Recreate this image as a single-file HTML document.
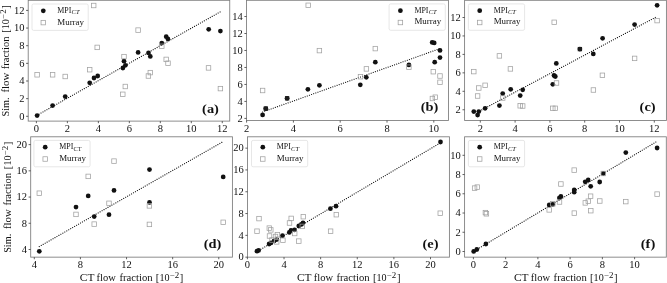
<!DOCTYPE html>
<html><head><meta charset="utf-8"><title>Flow fraction plots</title>
<style>html,body{margin:0;padding:0;background:#fff}body{width:667px;height:283px;overflow:hidden}</style></head>
<body>
<svg width="667" height="283" viewBox="0 0 667 283" style="display:block">
<rect width="667" height="283" fill="#fff"/>
<g id="panel-a">
<line x1="37.1" y1="115.3" x2="220.9" y2="11.5" stroke="#111" stroke-width="1.2" stroke-linecap="round" stroke-dasharray="0.01 2.25"/>
<circle cx="37.1" cy="115.6" r="2.38" fill="#111"/>
<circle cx="52.6" cy="105.6" r="2.38" fill="#111"/>
<circle cx="65.2" cy="96.6" r="2.38" fill="#111"/>
<circle cx="89.7" cy="82.8" r="2.38" fill="#111"/>
<circle cx="94" cy="78" r="2.38" fill="#111"/>
<circle cx="97.7" cy="76" r="2.38" fill="#111"/>
<circle cx="122.9" cy="68" r="2.38" fill="#111"/>
<circle cx="124" cy="61.2" r="2.38" fill="#111"/>
<circle cx="125.4" cy="65.3" r="2.38" fill="#111"/>
<circle cx="138.1" cy="52.4" r="2.38" fill="#111"/>
<circle cx="148.5" cy="52.9" r="2.38" fill="#111"/>
<circle cx="150.3" cy="56.4" r="2.38" fill="#111"/>
<circle cx="161.8" cy="43.1" r="2.38" fill="#111"/>
<circle cx="166.2" cy="36.7" r="2.38" fill="#111"/>
<circle cx="167.9" cy="38.9" r="2.38" fill="#111"/>
<circle cx="208.7" cy="29.3" r="2.38" fill="#111"/>
<circle cx="220.4" cy="31.1" r="2.38" fill="#111"/>
<rect x="91.45" y="3.25" width="4.5" height="4.5" fill="none" stroke="#a0a0a0" stroke-width="0.75"/>
<rect x="94.95" y="45.15" width="4.5" height="4.5" fill="none" stroke="#a0a0a0" stroke-width="0.75"/>
<rect x="34.85" y="72.55" width="4.5" height="4.5" fill="none" stroke="#a0a0a0" stroke-width="0.75"/>
<rect x="50.35" y="72.55" width="4.5" height="4.5" fill="none" stroke="#a0a0a0" stroke-width="0.75"/>
<rect x="62.95" y="74.25" width="4.5" height="4.5" fill="none" stroke="#a0a0a0" stroke-width="0.75"/>
<rect x="87.45" y="67.45" width="4.5" height="4.5" fill="none" stroke="#a0a0a0" stroke-width="0.75"/>
<rect x="121.75" y="54.35" width="4.5" height="4.5" fill="none" stroke="#a0a0a0" stroke-width="0.75"/>
<rect x="120.55" y="92.05" width="4.5" height="4.5" fill="none" stroke="#a0a0a0" stroke-width="0.75"/>
<rect x="123.05" y="84.25" width="4.5" height="4.5" fill="none" stroke="#a0a0a0" stroke-width="0.75"/>
<rect x="135.85" y="27.85" width="4.5" height="4.5" fill="none" stroke="#a0a0a0" stroke-width="0.75"/>
<rect x="146.15" y="73.75" width="4.5" height="4.5" fill="none" stroke="#a0a0a0" stroke-width="0.75"/>
<rect x="148.05" y="70.35" width="4.5" height="4.5" fill="none" stroke="#a0a0a0" stroke-width="0.75"/>
<rect x="159.55" y="44.05" width="4.5" height="4.5" fill="none" stroke="#a0a0a0" stroke-width="0.75"/>
<rect x="163.95" y="57.15" width="4.5" height="4.5" fill="none" stroke="#a0a0a0" stroke-width="0.75"/>
<rect x="165.75" y="60.95" width="4.5" height="4.5" fill="none" stroke="#a0a0a0" stroke-width="0.75"/>
<rect x="206.25" y="65.65" width="4.5" height="4.5" fill="none" stroke="#a0a0a0" stroke-width="0.75"/>
<rect x="218.15" y="86.35" width="4.5" height="4.5" fill="none" stroke="#a0a0a0" stroke-width="0.75"/>
<rect x="28.2" y="0.3" width="201.55" height="120.8" fill="none" stroke="#7a7a7a" stroke-width="0.85"/>
<line x1="36.40" y1="121.1" x2="36.40" y2="123.19999999999999" stroke="#3a3a3a" stroke-width="0.8"/>
<text x="36.40" y="132.0" text-anchor="middle" font-size="10" textLength="5.25" lengthAdjust="spacingAndGlyphs" font-family="'Liberation Serif', serif" fill="#111">0</text>
<line x1="67.38" y1="121.1" x2="67.38" y2="123.19999999999999" stroke="#3a3a3a" stroke-width="0.8"/>
<text x="67.38" y="132.0" text-anchor="middle" font-size="10" textLength="5.25" lengthAdjust="spacingAndGlyphs" font-family="'Liberation Serif', serif" fill="#111">2</text>
<line x1="98.36" y1="121.1" x2="98.36" y2="123.19999999999999" stroke="#3a3a3a" stroke-width="0.8"/>
<text x="98.36" y="132.0" text-anchor="middle" font-size="10" textLength="5.25" lengthAdjust="spacingAndGlyphs" font-family="'Liberation Serif', serif" fill="#111">4</text>
<line x1="129.34" y1="121.1" x2="129.34" y2="123.19999999999999" stroke="#3a3a3a" stroke-width="0.8"/>
<text x="129.34" y="132.0" text-anchor="middle" font-size="10" textLength="5.25" lengthAdjust="spacingAndGlyphs" font-family="'Liberation Serif', serif" fill="#111">6</text>
<line x1="160.32" y1="121.1" x2="160.32" y2="123.19999999999999" stroke="#3a3a3a" stroke-width="0.8"/>
<text x="160.32" y="132.0" text-anchor="middle" font-size="10" textLength="5.25" lengthAdjust="spacingAndGlyphs" font-family="'Liberation Serif', serif" fill="#111">8</text>
<line x1="191.30" y1="121.1" x2="191.30" y2="123.19999999999999" stroke="#3a3a3a" stroke-width="0.8"/>
<text x="191.30" y="132.0" text-anchor="middle" font-size="10" textLength="10.50" lengthAdjust="spacingAndGlyphs" font-family="'Liberation Serif', serif" fill="#111">10</text>
<line x1="222.28" y1="121.1" x2="222.28" y2="123.19999999999999" stroke="#3a3a3a" stroke-width="0.8"/>
<text x="222.28" y="132.0" text-anchor="middle" font-size="10" textLength="10.50" lengthAdjust="spacingAndGlyphs" font-family="'Liberation Serif', serif" fill="#111">12</text>
<line x1="26.099999999999998" y1="116.30" x2="28.2" y2="116.30" stroke="#3a3a3a" stroke-width="0.8"/>
<text x="24.40" y="119.60" text-anchor="end" font-size="10" textLength="5.25" lengthAdjust="spacingAndGlyphs" font-family="'Liberation Serif', serif" fill="#111">0</text>
<line x1="26.099999999999998" y1="98.65" x2="28.2" y2="98.65" stroke="#3a3a3a" stroke-width="0.8"/>
<text x="24.40" y="101.95" text-anchor="end" font-size="10" textLength="5.25" lengthAdjust="spacingAndGlyphs" font-family="'Liberation Serif', serif" fill="#111">2</text>
<line x1="26.099999999999998" y1="81.00" x2="28.2" y2="81.00" stroke="#3a3a3a" stroke-width="0.8"/>
<text x="24.40" y="84.30" text-anchor="end" font-size="10" textLength="5.25" lengthAdjust="spacingAndGlyphs" font-family="'Liberation Serif', serif" fill="#111">4</text>
<line x1="26.099999999999998" y1="63.35" x2="28.2" y2="63.35" stroke="#3a3a3a" stroke-width="0.8"/>
<text x="24.40" y="66.65" text-anchor="end" font-size="10" textLength="5.25" lengthAdjust="spacingAndGlyphs" font-family="'Liberation Serif', serif" fill="#111">6</text>
<line x1="26.099999999999998" y1="45.70" x2="28.2" y2="45.70" stroke="#3a3a3a" stroke-width="0.8"/>
<text x="24.40" y="49.00" text-anchor="end" font-size="10" textLength="5.25" lengthAdjust="spacingAndGlyphs" font-family="'Liberation Serif', serif" fill="#111">8</text>
<line x1="26.099999999999998" y1="28.05" x2="28.2" y2="28.05" stroke="#3a3a3a" stroke-width="0.8"/>
<text x="24.40" y="31.35" text-anchor="end" font-size="10" textLength="10.50" lengthAdjust="spacingAndGlyphs" font-family="'Liberation Serif', serif" fill="#111">10</text>
<line x1="26.099999999999998" y1="10.40" x2="28.2" y2="10.40" stroke="#3a3a3a" stroke-width="0.8"/>
<text x="24.40" y="13.70" text-anchor="end" font-size="10" textLength="10.50" lengthAdjust="spacingAndGlyphs" font-family="'Liberation Serif', serif" fill="#111">12</text>
<rect x="32.0" y="4.0" width="56.2" height="26.4" rx="1.6" fill="#fff" fill-opacity="0.8" stroke="#dcdcdc" stroke-width="0.7"/>
<circle cx="43.3" cy="10.8" r="2.38" fill="#111"/>
<rect x="41.05" y="20.35" width="4.5" height="4.5" fill="none" stroke="#a0a0a0" stroke-width="0.75"/>
<text x="57.3" y="13.0" font-size="8.5" textLength="14.1" lengthAdjust="spacingAndGlyphs" font-family="'Liberation Serif', serif" fill="#111">MPI</text>
<text x="71.6" y="14.4" font-size="6.9" textLength="8.0" lengthAdjust="spacingAndGlyphs" font-style="italic" font-family="'Liberation Serif', serif" fill="#111">CT</text>
<text x="57.3" y="24.5" font-size="8.4" textLength="26.7" lengthAdjust="spacingAndGlyphs" font-family="'Liberation Serif', serif" fill="#111">Murray</text>
<text x="210.5" y="112.5" text-anchor="middle" font-size="13.5" font-weight="bold" textLength="16.8" lengthAdjust="spacingAndGlyphs" font-family="'Liberation Serif', serif" fill="#111">(a)</text>
</g>
<g id="panel-b">
<line x1="262.6" y1="112" x2="440" y2="48.6" stroke="#111" stroke-width="1.2" stroke-linecap="round" stroke-dasharray="0.01 2.25"/>
<circle cx="262.6" cy="114.9" r="2.38" fill="#111"/>
<circle cx="265.8" cy="108.6" r="2.38" fill="#111"/>
<circle cx="287.1" cy="98.3" r="2.38" fill="#111"/>
<circle cx="307.9" cy="89.3" r="2.38" fill="#111"/>
<circle cx="319.4" cy="85.3" r="2.38" fill="#111"/>
<circle cx="360.3" cy="84.8" r="2.38" fill="#111"/>
<circle cx="366.3" cy="77.3" r="2.38" fill="#111"/>
<circle cx="375.3" cy="62.2" r="2.38" fill="#111"/>
<circle cx="408.9" cy="64.9" r="2.38" fill="#111"/>
<circle cx="432.2" cy="42.4" r="2.38" fill="#111"/>
<circle cx="434.2" cy="42.9" r="2.38" fill="#111"/>
<circle cx="440" cy="50.4" r="2.38" fill="#111"/>
<circle cx="440" cy="57.6" r="2.38" fill="#111"/>
<circle cx="434.7" cy="62.2" r="2.38" fill="#111"/>
<rect x="263.65" y="106.45" width="4.3" height="4.3" fill="#1c1c1c"/>
<rect x="284.95" y="96.15" width="4.3" height="4.3" fill="#1c1c1c"/>
<rect x="260.35" y="88.25" width="4.5" height="4.5" fill="none" stroke="#a0a0a0" stroke-width="0.75"/>
<rect x="305.95" y="3.05" width="4.5" height="4.5" fill="none" stroke="#a0a0a0" stroke-width="0.75"/>
<rect x="317.15" y="48.35" width="4.5" height="4.5" fill="none" stroke="#a0a0a0" stroke-width="0.75"/>
<rect x="373.05" y="46.35" width="4.5" height="4.5" fill="none" stroke="#a0a0a0" stroke-width="0.75"/>
<rect x="364.15" y="66.65" width="4.5" height="4.5" fill="none" stroke="#a0a0a0" stroke-width="0.75"/>
<rect x="358.25" y="74.45" width="4.5" height="4.5" fill="none" stroke="#a0a0a0" stroke-width="0.75"/>
<rect x="406.65" y="64.95" width="4.5" height="4.5" fill="none" stroke="#a0a0a0" stroke-width="0.75"/>
<rect x="431.05" y="69.45" width="4.5" height="4.5" fill="none" stroke="#a0a0a0" stroke-width="0.75"/>
<rect x="437.75" y="73.75" width="4.5" height="4.5" fill="none" stroke="#a0a0a0" stroke-width="0.75"/>
<rect x="437.75" y="80.05" width="4.5" height="4.5" fill="none" stroke="#a0a0a0" stroke-width="0.75"/>
<rect x="433.05" y="94.95" width="4.5" height="4.5" fill="none" stroke="#a0a0a0" stroke-width="0.75"/>
<rect x="430.15" y="96.25" width="4.5" height="4.5" fill="none" stroke="#a0a0a0" stroke-width="0.75"/>
<rect x="246.5" y="0.3" width="201.95" height="120.2" fill="none" stroke="#7a7a7a" stroke-width="0.85"/>
<line x1="246.60" y1="120.5" x2="246.60" y2="122.6" stroke="#3a3a3a" stroke-width="0.8"/>
<text x="246.60" y="132.0" text-anchor="middle" font-size="10" textLength="5.25" lengthAdjust="spacingAndGlyphs" font-family="'Liberation Serif', serif" fill="#111">2</text>
<line x1="293.40" y1="120.5" x2="293.40" y2="122.6" stroke="#3a3a3a" stroke-width="0.8"/>
<text x="293.40" y="132.0" text-anchor="middle" font-size="10" textLength="5.25" lengthAdjust="spacingAndGlyphs" font-family="'Liberation Serif', serif" fill="#111">4</text>
<line x1="340.20" y1="120.5" x2="340.20" y2="122.6" stroke="#3a3a3a" stroke-width="0.8"/>
<text x="340.20" y="132.0" text-anchor="middle" font-size="10" textLength="5.25" lengthAdjust="spacingAndGlyphs" font-family="'Liberation Serif', serif" fill="#111">6</text>
<line x1="387.00" y1="120.5" x2="387.00" y2="122.6" stroke="#3a3a3a" stroke-width="0.8"/>
<text x="387.00" y="132.0" text-anchor="middle" font-size="10" textLength="5.25" lengthAdjust="spacingAndGlyphs" font-family="'Liberation Serif', serif" fill="#111">8</text>
<line x1="433.80" y1="120.5" x2="433.80" y2="122.6" stroke="#3a3a3a" stroke-width="0.8"/>
<text x="433.80" y="132.0" text-anchor="middle" font-size="10" textLength="10.50" lengthAdjust="spacingAndGlyphs" font-family="'Liberation Serif', serif" fill="#111">10</text>
<line x1="244.4" y1="118.40" x2="246.5" y2="118.40" stroke="#3a3a3a" stroke-width="0.8"/>
<text x="242.70" y="121.70" text-anchor="end" font-size="10" textLength="5.25" lengthAdjust="spacingAndGlyphs" font-family="'Liberation Serif', serif" fill="#111">2</text>
<line x1="244.4" y1="101.42" x2="246.5" y2="101.42" stroke="#3a3a3a" stroke-width="0.8"/>
<text x="242.70" y="104.72" text-anchor="end" font-size="10" textLength="5.25" lengthAdjust="spacingAndGlyphs" font-family="'Liberation Serif', serif" fill="#111">4</text>
<line x1="244.4" y1="84.44" x2="246.5" y2="84.44" stroke="#3a3a3a" stroke-width="0.8"/>
<text x="242.70" y="87.74" text-anchor="end" font-size="10" textLength="5.25" lengthAdjust="spacingAndGlyphs" font-family="'Liberation Serif', serif" fill="#111">6</text>
<line x1="244.4" y1="67.46" x2="246.5" y2="67.46" stroke="#3a3a3a" stroke-width="0.8"/>
<text x="242.70" y="70.76" text-anchor="end" font-size="10" textLength="5.25" lengthAdjust="spacingAndGlyphs" font-family="'Liberation Serif', serif" fill="#111">8</text>
<line x1="244.4" y1="50.48" x2="246.5" y2="50.48" stroke="#3a3a3a" stroke-width="0.8"/>
<text x="242.70" y="53.78" text-anchor="end" font-size="10" textLength="10.50" lengthAdjust="spacingAndGlyphs" font-family="'Liberation Serif', serif" fill="#111">10</text>
<line x1="244.4" y1="33.50" x2="246.5" y2="33.50" stroke="#3a3a3a" stroke-width="0.8"/>
<text x="242.70" y="36.80" text-anchor="end" font-size="10" textLength="10.50" lengthAdjust="spacingAndGlyphs" font-family="'Liberation Serif', serif" fill="#111">12</text>
<line x1="244.4" y1="16.52" x2="246.5" y2="16.52" stroke="#3a3a3a" stroke-width="0.8"/>
<text x="242.70" y="19.82" text-anchor="end" font-size="10" textLength="10.50" lengthAdjust="spacingAndGlyphs" font-family="'Liberation Serif', serif" fill="#111">14</text>
<rect x="389.1" y="3.9" width="56.2" height="26.4" rx="1.6" fill="#fff" fill-opacity="0.8" stroke="#dcdcdc" stroke-width="0.7"/>
<circle cx="400.40000000000003" cy="10.7" r="2.38" fill="#111"/>
<rect x="398.15000000000003" y="20.25" width="4.5" height="4.5" fill="none" stroke="#a0a0a0" stroke-width="0.75"/>
<text x="414.40000000000003" y="12.9" font-size="8.5" textLength="14.1" lengthAdjust="spacingAndGlyphs" font-family="'Liberation Serif', serif" fill="#111">MPI</text>
<text x="428.70000000000005" y="14.3" font-size="6.9" textLength="8.0" lengthAdjust="spacingAndGlyphs" font-style="italic" font-family="'Liberation Serif', serif" fill="#111">CT</text>
<text x="414.40000000000003" y="24.4" font-size="8.4" textLength="26.7" lengthAdjust="spacingAndGlyphs" font-family="'Liberation Serif', serif" fill="#111">Murray</text>
<text x="429.5" y="111" text-anchor="middle" font-size="13.5" font-weight="bold" textLength="17.6" lengthAdjust="spacingAndGlyphs" font-family="'Liberation Serif', serif" fill="#111">(b)</text>
</g>
<g id="panel-c">
<line x1="481.8" y1="109.9" x2="657.3" y2="16.4" stroke="#111" stroke-width="1.2" stroke-linecap="round" stroke-dasharray="0.01 2.25"/>
<circle cx="473.8" cy="111.6" r="2.38" fill="#111"/>
<circle cx="478.8" cy="111.6" r="2.38" fill="#111"/>
<circle cx="477.6" cy="115.1" r="2.38" fill="#111"/>
<circle cx="485.1" cy="108.3" r="2.38" fill="#111"/>
<circle cx="499.4" cy="105.6" r="2.38" fill="#111"/>
<circle cx="502.7" cy="93.6" r="2.38" fill="#111"/>
<circle cx="510.7" cy="89.3" r="2.38" fill="#111"/>
<circle cx="520.2" cy="95.6" r="2.38" fill="#111"/>
<circle cx="522.7" cy="89.8" r="2.38" fill="#111"/>
<circle cx="554" cy="75.5" r="2.38" fill="#111"/>
<circle cx="555.3" cy="76.5" r="2.38" fill="#111"/>
<circle cx="552.8" cy="84.3" r="2.38" fill="#111"/>
<circle cx="556.3" cy="63.4" r="2.38" fill="#111"/>
<circle cx="579.9" cy="49.1" r="2.38" fill="#111"/>
<circle cx="593.3" cy="53.9" r="2.38" fill="#111"/>
<circle cx="602.6" cy="38.3" r="2.38" fill="#111"/>
<circle cx="634.6" cy="24.6" r="2.38" fill="#111"/>
<circle cx="657.1" cy="5.3" r="2.38" fill="#111"/>
<rect x="577.75" y="46.95" width="4.3" height="4.3" fill="#1c1c1c"/>
<rect x="471.55" y="69.35" width="4.5" height="4.5" fill="none" stroke="#a0a0a0" stroke-width="0.75"/>
<rect x="476.55" y="85.75" width="4.5" height="4.5" fill="none" stroke="#a0a0a0" stroke-width="0.75"/>
<rect x="482.85" y="83.05" width="4.5" height="4.5" fill="none" stroke="#a0a0a0" stroke-width="0.75"/>
<rect x="475.35" y="93.75" width="4.5" height="4.5" fill="none" stroke="#a0a0a0" stroke-width="0.75"/>
<rect x="500.45" y="95.75" width="4.5" height="4.5" fill="none" stroke="#a0a0a0" stroke-width="0.75"/>
<rect x="517.95" y="103.55" width="4.5" height="4.5" fill="none" stroke="#a0a0a0" stroke-width="0.75"/>
<rect x="520.45" y="103.75" width="4.5" height="4.5" fill="none" stroke="#a0a0a0" stroke-width="0.75"/>
<rect x="550.55" y="106.05" width="4.5" height="4.5" fill="none" stroke="#a0a0a0" stroke-width="0.75"/>
<rect x="553.05" y="106.05" width="4.5" height="4.5" fill="none" stroke="#a0a0a0" stroke-width="0.75"/>
<rect x="554.25" y="80.75" width="4.5" height="4.5" fill="none" stroke="#a0a0a0" stroke-width="0.75"/>
<rect x="591.15" y="87.75" width="4.5" height="4.5" fill="none" stroke="#a0a0a0" stroke-width="0.75"/>
<rect x="600.15" y="73.05" width="4.5" height="4.5" fill="none" stroke="#a0a0a0" stroke-width="0.75"/>
<rect x="551.95" y="20.05" width="4.5" height="4.5" fill="none" stroke="#a0a0a0" stroke-width="0.75"/>
<rect x="497.15" y="53.65" width="4.5" height="4.5" fill="none" stroke="#a0a0a0" stroke-width="0.75"/>
<rect x="508.15" y="66.65" width="4.5" height="4.5" fill="none" stroke="#a0a0a0" stroke-width="0.75"/>
<rect x="632.35" y="56.15" width="4.5" height="4.5" fill="none" stroke="#a0a0a0" stroke-width="0.75"/>
<rect x="654.85" y="18.35" width="4.5" height="4.5" fill="none" stroke="#a0a0a0" stroke-width="0.75"/>
<rect x="464.6" y="0.3" width="201.79999999999995" height="120.2" fill="none" stroke="#7a7a7a" stroke-width="0.85"/>
<line x1="480.30" y1="120.5" x2="480.30" y2="122.6" stroke="#3a3a3a" stroke-width="0.8"/>
<text x="480.30" y="132.0" text-anchor="middle" font-size="10" textLength="5.25" lengthAdjust="spacingAndGlyphs" font-family="'Liberation Serif', serif" fill="#111">2</text>
<line x1="515.10" y1="120.5" x2="515.10" y2="122.6" stroke="#3a3a3a" stroke-width="0.8"/>
<text x="515.10" y="132.0" text-anchor="middle" font-size="10" textLength="5.25" lengthAdjust="spacingAndGlyphs" font-family="'Liberation Serif', serif" fill="#111">4</text>
<line x1="549.90" y1="120.5" x2="549.90" y2="122.6" stroke="#3a3a3a" stroke-width="0.8"/>
<text x="549.90" y="132.0" text-anchor="middle" font-size="10" textLength="5.25" lengthAdjust="spacingAndGlyphs" font-family="'Liberation Serif', serif" fill="#111">6</text>
<line x1="584.70" y1="120.5" x2="584.70" y2="122.6" stroke="#3a3a3a" stroke-width="0.8"/>
<text x="584.70" y="132.0" text-anchor="middle" font-size="10" textLength="5.25" lengthAdjust="spacingAndGlyphs" font-family="'Liberation Serif', serif" fill="#111">8</text>
<line x1="619.50" y1="120.5" x2="619.50" y2="122.6" stroke="#3a3a3a" stroke-width="0.8"/>
<text x="619.50" y="132.0" text-anchor="middle" font-size="10" textLength="10.50" lengthAdjust="spacingAndGlyphs" font-family="'Liberation Serif', serif" fill="#111">10</text>
<line x1="654.30" y1="120.5" x2="654.30" y2="122.6" stroke="#3a3a3a" stroke-width="0.8"/>
<text x="654.30" y="132.0" text-anchor="middle" font-size="10" textLength="10.50" lengthAdjust="spacingAndGlyphs" font-family="'Liberation Serif', serif" fill="#111">12</text>
<line x1="462.5" y1="109.75" x2="464.6" y2="109.75" stroke="#3a3a3a" stroke-width="0.8"/>
<text x="460.80" y="113.05" text-anchor="end" font-size="10" textLength="5.25" lengthAdjust="spacingAndGlyphs" font-family="'Liberation Serif', serif" fill="#111">2</text>
<line x1="462.5" y1="91.30" x2="464.6" y2="91.30" stroke="#3a3a3a" stroke-width="0.8"/>
<text x="460.80" y="94.60" text-anchor="end" font-size="10" textLength="5.25" lengthAdjust="spacingAndGlyphs" font-family="'Liberation Serif', serif" fill="#111">4</text>
<line x1="462.5" y1="72.85" x2="464.6" y2="72.85" stroke="#3a3a3a" stroke-width="0.8"/>
<text x="460.80" y="76.15" text-anchor="end" font-size="10" textLength="5.25" lengthAdjust="spacingAndGlyphs" font-family="'Liberation Serif', serif" fill="#111">6</text>
<line x1="462.5" y1="54.40" x2="464.6" y2="54.40" stroke="#3a3a3a" stroke-width="0.8"/>
<text x="460.80" y="57.70" text-anchor="end" font-size="10" textLength="5.25" lengthAdjust="spacingAndGlyphs" font-family="'Liberation Serif', serif" fill="#111">8</text>
<line x1="462.5" y1="35.95" x2="464.6" y2="35.95" stroke="#3a3a3a" stroke-width="0.8"/>
<text x="460.80" y="39.25" text-anchor="end" font-size="10" textLength="10.50" lengthAdjust="spacingAndGlyphs" font-family="'Liberation Serif', serif" fill="#111">10</text>
<line x1="462.5" y1="17.50" x2="464.6" y2="17.50" stroke="#3a3a3a" stroke-width="0.8"/>
<text x="460.80" y="20.80" text-anchor="end" font-size="10" textLength="10.50" lengthAdjust="spacingAndGlyphs" font-family="'Liberation Serif', serif" fill="#111">12</text>
<rect x="468.4" y="3.9" width="56.2" height="26.4" rx="1.6" fill="#fff" fill-opacity="0.8" stroke="#dcdcdc" stroke-width="0.7"/>
<circle cx="479.7" cy="10.7" r="2.38" fill="#111"/>
<rect x="477.45" y="20.25" width="4.5" height="4.5" fill="none" stroke="#a0a0a0" stroke-width="0.75"/>
<text x="493.7" y="12.9" font-size="8.5" textLength="14.1" lengthAdjust="spacingAndGlyphs" font-family="'Liberation Serif', serif" fill="#111">MPI</text>
<text x="508.0" y="14.3" font-size="6.9" textLength="8.0" lengthAdjust="spacingAndGlyphs" font-style="italic" font-family="'Liberation Serif', serif" fill="#111">CT</text>
<text x="493.7" y="24.4" font-size="8.4" textLength="26.7" lengthAdjust="spacingAndGlyphs" font-family="'Liberation Serif', serif" fill="#111">Murray</text>
<text x="647.6" y="111" text-anchor="middle" font-size="13.5" font-weight="bold" textLength="16.0" lengthAdjust="spacingAndGlyphs" font-family="'Liberation Serif', serif" fill="#111">(c)</text>
</g>
<g id="panel-d">
<line x1="39.3" y1="246.6" x2="223.2" y2="141.6" stroke="#111" stroke-width="1.2" stroke-linecap="round" stroke-dasharray="0.01 2.25"/>
<circle cx="39.3" cy="251.3" r="2.38" fill="#111"/>
<circle cx="76" cy="207.1" r="2.38" fill="#111"/>
<circle cx="94.2" cy="216.6" r="2.38" fill="#111"/>
<circle cx="109" cy="214.7" r="2.38" fill="#111"/>
<circle cx="149.5" cy="202.4" r="2.38" fill="#111"/>
<circle cx="149.5" cy="169.6" r="2.38" fill="#111"/>
<circle cx="114" cy="190.4" r="2.38" fill="#111"/>
<circle cx="88.2" cy="195.9" r="2.38" fill="#111"/>
<circle cx="223.2" cy="176.9" r="2.38" fill="#111"/>
<rect x="37.05" y="190.95" width="4.5" height="4.5" fill="none" stroke="#a0a0a0" stroke-width="0.75"/>
<rect x="85.95" y="174.15" width="4.5" height="4.5" fill="none" stroke="#a0a0a0" stroke-width="0.75"/>
<rect x="111.75" y="158.85" width="4.5" height="4.5" fill="none" stroke="#a0a0a0" stroke-width="0.75"/>
<rect x="73.75" y="212.15" width="4.5" height="4.5" fill="none" stroke="#a0a0a0" stroke-width="0.75"/>
<rect x="91.95" y="221.85" width="4.5" height="4.5" fill="none" stroke="#a0a0a0" stroke-width="0.75"/>
<rect x="106.75" y="201.05" width="4.5" height="4.5" fill="none" stroke="#a0a0a0" stroke-width="0.75"/>
<rect x="147.15" y="203.65" width="4.5" height="4.5" fill="none" stroke="#a0a0a0" stroke-width="0.75"/>
<rect x="147.15" y="222.15" width="4.5" height="4.5" fill="none" stroke="#a0a0a0" stroke-width="0.75"/>
<rect x="220.95" y="220.05" width="4.5" height="4.5" fill="none" stroke="#a0a0a0" stroke-width="0.75"/>
<rect x="30.7" y="136.8" width="201.70000000000002" height="120.34999999999997" fill="none" stroke="#7a7a7a" stroke-width="0.85"/>
<line x1="34.30" y1="257.15" x2="34.30" y2="259.25" stroke="#3a3a3a" stroke-width="0.8"/>
<text x="34.30" y="268.2" text-anchor="middle" font-size="10" textLength="5.25" lengthAdjust="spacingAndGlyphs" font-family="'Liberation Serif', serif" fill="#111">4</text>
<line x1="80.42" y1="257.15" x2="80.42" y2="259.25" stroke="#3a3a3a" stroke-width="0.8"/>
<text x="80.42" y="268.2" text-anchor="middle" font-size="10" textLength="5.25" lengthAdjust="spacingAndGlyphs" font-family="'Liberation Serif', serif" fill="#111">8</text>
<line x1="126.54" y1="257.15" x2="126.54" y2="259.25" stroke="#3a3a3a" stroke-width="0.8"/>
<text x="126.54" y="268.2" text-anchor="middle" font-size="10" textLength="10.50" lengthAdjust="spacingAndGlyphs" font-family="'Liberation Serif', serif" fill="#111">12</text>
<line x1="172.66" y1="257.15" x2="172.66" y2="259.25" stroke="#3a3a3a" stroke-width="0.8"/>
<text x="172.66" y="268.2" text-anchor="middle" font-size="10" textLength="10.50" lengthAdjust="spacingAndGlyphs" font-family="'Liberation Serif', serif" fill="#111">16</text>
<line x1="218.78" y1="257.15" x2="218.78" y2="259.25" stroke="#3a3a3a" stroke-width="0.8"/>
<text x="218.78" y="268.2" text-anchor="middle" font-size="10" textLength="10.50" lengthAdjust="spacingAndGlyphs" font-family="'Liberation Serif', serif" fill="#111">20</text>
<line x1="28.599999999999998" y1="249.50" x2="30.7" y2="249.50" stroke="#3a3a3a" stroke-width="0.8"/>
<text x="26.90" y="252.80" text-anchor="end" font-size="10" textLength="5.25" lengthAdjust="spacingAndGlyphs" font-family="'Liberation Serif', serif" fill="#111">4</text>
<line x1="28.599999999999998" y1="223.28" x2="30.7" y2="223.28" stroke="#3a3a3a" stroke-width="0.8"/>
<text x="26.90" y="226.58" text-anchor="end" font-size="10" textLength="5.25" lengthAdjust="spacingAndGlyphs" font-family="'Liberation Serif', serif" fill="#111">8</text>
<line x1="28.599999999999998" y1="197.05" x2="30.7" y2="197.05" stroke="#3a3a3a" stroke-width="0.8"/>
<text x="26.90" y="200.35" text-anchor="end" font-size="10" textLength="10.50" lengthAdjust="spacingAndGlyphs" font-family="'Liberation Serif', serif" fill="#111">12</text>
<line x1="28.599999999999998" y1="170.83" x2="30.7" y2="170.83" stroke="#3a3a3a" stroke-width="0.8"/>
<text x="26.90" y="174.13" text-anchor="end" font-size="10" textLength="10.50" lengthAdjust="spacingAndGlyphs" font-family="'Liberation Serif', serif" fill="#111">16</text>
<line x1="28.599999999999998" y1="144.60" x2="30.7" y2="144.60" stroke="#3a3a3a" stroke-width="0.8"/>
<text x="26.90" y="147.90" text-anchor="end" font-size="10" textLength="10.50" lengthAdjust="spacingAndGlyphs" font-family="'Liberation Serif', serif" fill="#111">20</text>
<rect x="33.9" y="140.4" width="56.2" height="26.4" rx="1.6" fill="#fff" fill-opacity="0.8" stroke="#dcdcdc" stroke-width="0.7"/>
<circle cx="45.2" cy="147.20000000000002" r="2.38" fill="#111"/>
<rect x="42.95" y="156.75" width="4.5" height="4.5" fill="none" stroke="#a0a0a0" stroke-width="0.75"/>
<text x="59.2" y="149.4" font-size="8.5" textLength="14.1" lengthAdjust="spacingAndGlyphs" font-family="'Liberation Serif', serif" fill="#111">MPI</text>
<text x="73.5" y="150.8" font-size="6.9" textLength="8.0" lengthAdjust="spacingAndGlyphs" font-style="normal" font-family="'Liberation Serif', serif" fill="#111">CT</text>
<text x="59.2" y="160.9" font-size="8.4" textLength="26.7" lengthAdjust="spacingAndGlyphs" font-family="'Liberation Serif', serif" fill="#111">Murray</text>
<text x="212.5" y="248" text-anchor="middle" font-size="13.5" font-weight="bold" textLength="17.6" lengthAdjust="spacingAndGlyphs" font-family="'Liberation Serif', serif" fill="#111">(d)</text>
</g>
<g id="panel-e">
<line x1="257" y1="251.6" x2="440.5" y2="142.8" stroke="#111" stroke-width="1.2" stroke-linecap="round" stroke-dasharray="0.01 2.25"/>
<circle cx="257.0" cy="251.2" r="2.38" fill="#111"/>
<circle cx="258.6" cy="250.4" r="2.38" fill="#111"/>
<circle cx="269.1" cy="244" r="2.38" fill="#111"/>
<circle cx="271" cy="242.9" r="2.38" fill="#111"/>
<circle cx="274.1" cy="240.9" r="2.38" fill="#111"/>
<circle cx="276.7" cy="239.6" r="2.38" fill="#111"/>
<circle cx="282.5" cy="235.7" r="2.38" fill="#111"/>
<circle cx="289.3" cy="232.4" r="2.38" fill="#111"/>
<circle cx="291" cy="230.4" r="2.38" fill="#111"/>
<circle cx="294.5" cy="229.9" r="2.38" fill="#111"/>
<circle cx="298.8" cy="226" r="2.38" fill="#111"/>
<circle cx="301.3" cy="224.4" r="2.38" fill="#111"/>
<circle cx="303" cy="223" r="2.38" fill="#111"/>
<circle cx="330.4" cy="208.7" r="2.38" fill="#111"/>
<circle cx="336" cy="206.2" r="2.38" fill="#111"/>
<circle cx="440.5" cy="142.0" r="2.38" fill="#111"/>
<rect x="256.75" y="216.35" width="4.5" height="4.5" fill="none" stroke="#a0a0a0" stroke-width="0.75"/>
<rect x="254.75" y="228.95" width="4.5" height="4.5" fill="none" stroke="#a0a0a0" stroke-width="0.75"/>
<rect x="267.05" y="225.85" width="4.5" height="4.5" fill="none" stroke="#a0a0a0" stroke-width="0.75"/>
<rect x="268.55" y="227.65" width="4.5" height="4.5" fill="none" stroke="#a0a0a0" stroke-width="0.75"/>
<rect x="267.25" y="233.75" width="4.5" height="4.5" fill="none" stroke="#a0a0a0" stroke-width="0.75"/>
<rect x="275.15" y="232.45" width="4.5" height="4.5" fill="none" stroke="#a0a0a0" stroke-width="0.75"/>
<rect x="273.25" y="234.25" width="4.5" height="4.5" fill="none" stroke="#a0a0a0" stroke-width="0.75"/>
<rect x="269.75" y="237.75" width="4.5" height="4.5" fill="none" stroke="#a0a0a0" stroke-width="0.75"/>
<rect x="274.45" y="239.65" width="4.5" height="4.5" fill="none" stroke="#a0a0a0" stroke-width="0.75"/>
<rect x="280.65" y="238.05" width="4.5" height="4.5" fill="none" stroke="#a0a0a0" stroke-width="0.75"/>
<rect x="288.95" y="216.15" width="4.5" height="4.5" fill="none" stroke="#a0a0a0" stroke-width="0.75"/>
<rect x="287.25" y="220.75" width="4.5" height="4.5" fill="none" stroke="#a0a0a0" stroke-width="0.75"/>
<rect x="292.45" y="231.25" width="4.5" height="4.5" fill="none" stroke="#a0a0a0" stroke-width="0.75"/>
<rect x="296.55" y="238.85" width="4.5" height="4.5" fill="none" stroke="#a0a0a0" stroke-width="0.75"/>
<rect x="301.05" y="214.45" width="4.5" height="4.5" fill="none" stroke="#a0a0a0" stroke-width="0.75"/>
<rect x="300.05" y="224.15" width="4.5" height="4.5" fill="none" stroke="#a0a0a0" stroke-width="0.75"/>
<rect x="328.35" y="228.95" width="4.5" height="4.5" fill="none" stroke="#a0a0a0" stroke-width="0.75"/>
<rect x="334.05" y="212.45" width="4.5" height="4.5" fill="none" stroke="#a0a0a0" stroke-width="0.75"/>
<rect x="438.00" y="210.95" width="4.5" height="4.5" fill="none" stroke="#a0a0a0" stroke-width="0.75"/>
<rect x="247.5" y="136.8" width="201.89999999999998" height="120.34999999999997" fill="none" stroke="#7a7a7a" stroke-width="0.85"/>
<line x1="247.40" y1="257.15" x2="247.40" y2="259.25" stroke="#3a3a3a" stroke-width="0.8"/>
<text x="247.40" y="268.2" text-anchor="middle" font-size="10" textLength="5.25" lengthAdjust="spacingAndGlyphs" font-family="'Liberation Serif', serif" fill="#111">0</text>
<line x1="284.02" y1="257.15" x2="284.02" y2="259.25" stroke="#3a3a3a" stroke-width="0.8"/>
<text x="284.02" y="268.2" text-anchor="middle" font-size="10" textLength="5.25" lengthAdjust="spacingAndGlyphs" font-family="'Liberation Serif', serif" fill="#111">4</text>
<line x1="320.64" y1="257.15" x2="320.64" y2="259.25" stroke="#3a3a3a" stroke-width="0.8"/>
<text x="320.64" y="268.2" text-anchor="middle" font-size="10" textLength="5.25" lengthAdjust="spacingAndGlyphs" font-family="'Liberation Serif', serif" fill="#111">8</text>
<line x1="357.26" y1="257.15" x2="357.26" y2="259.25" stroke="#3a3a3a" stroke-width="0.8"/>
<text x="357.26" y="268.2" text-anchor="middle" font-size="10" textLength="10.50" lengthAdjust="spacingAndGlyphs" font-family="'Liberation Serif', serif" fill="#111">12</text>
<line x1="393.88" y1="257.15" x2="393.88" y2="259.25" stroke="#3a3a3a" stroke-width="0.8"/>
<text x="393.88" y="268.2" text-anchor="middle" font-size="10" textLength="10.50" lengthAdjust="spacingAndGlyphs" font-family="'Liberation Serif', serif" fill="#111">16</text>
<line x1="430.50" y1="257.15" x2="430.50" y2="259.25" stroke="#3a3a3a" stroke-width="0.8"/>
<text x="430.50" y="268.2" text-anchor="middle" font-size="10" textLength="10.50" lengthAdjust="spacingAndGlyphs" font-family="'Liberation Serif', serif" fill="#111">20</text>
<line x1="245.4" y1="257.15" x2="247.5" y2="257.15" stroke="#3a3a3a" stroke-width="0.8"/>
<text x="243.70" y="260.45" text-anchor="end" font-size="10" textLength="5.25" lengthAdjust="spacingAndGlyphs" font-family="'Liberation Serif', serif" fill="#111">0</text>
<line x1="245.4" y1="235.35" x2="247.5" y2="235.35" stroke="#3a3a3a" stroke-width="0.8"/>
<text x="243.70" y="238.65" text-anchor="end" font-size="10" textLength="5.25" lengthAdjust="spacingAndGlyphs" font-family="'Liberation Serif', serif" fill="#111">4</text>
<line x1="245.4" y1="213.55" x2="247.5" y2="213.55" stroke="#3a3a3a" stroke-width="0.8"/>
<text x="243.70" y="216.85" text-anchor="end" font-size="10" textLength="5.25" lengthAdjust="spacingAndGlyphs" font-family="'Liberation Serif', serif" fill="#111">8</text>
<line x1="245.4" y1="191.75" x2="247.5" y2="191.75" stroke="#3a3a3a" stroke-width="0.8"/>
<text x="243.70" y="195.05" text-anchor="end" font-size="10" textLength="10.50" lengthAdjust="spacingAndGlyphs" font-family="'Liberation Serif', serif" fill="#111">12</text>
<line x1="245.4" y1="169.95" x2="247.5" y2="169.95" stroke="#3a3a3a" stroke-width="0.8"/>
<text x="243.70" y="173.25" text-anchor="end" font-size="10" textLength="10.50" lengthAdjust="spacingAndGlyphs" font-family="'Liberation Serif', serif" fill="#111">16</text>
<line x1="245.4" y1="148.15" x2="247.5" y2="148.15" stroke="#3a3a3a" stroke-width="0.8"/>
<text x="243.70" y="151.45" text-anchor="end" font-size="10" textLength="10.50" lengthAdjust="spacingAndGlyphs" font-family="'Liberation Serif', serif" fill="#111">20</text>
<rect x="251.5" y="140.4" width="56.2" height="26.4" rx="1.6" fill="#fff" fill-opacity="0.8" stroke="#dcdcdc" stroke-width="0.7"/>
<circle cx="262.8" cy="147.20000000000002" r="2.38" fill="#111"/>
<rect x="260.55" y="156.75" width="4.5" height="4.5" fill="none" stroke="#a0a0a0" stroke-width="0.75"/>
<text x="276.8" y="149.4" font-size="8.5" textLength="14.1" lengthAdjust="spacingAndGlyphs" font-family="'Liberation Serif', serif" fill="#111">MPI</text>
<text x="291.1" y="150.8" font-size="6.9" textLength="8.0" lengthAdjust="spacingAndGlyphs" font-style="italic" font-family="'Liberation Serif', serif" fill="#111">CT</text>
<text x="276.8" y="160.9" font-size="8.4" textLength="26.7" lengthAdjust="spacingAndGlyphs" font-family="'Liberation Serif', serif" fill="#111">Murray</text>
<text x="430.5" y="248" text-anchor="middle" font-size="13.5" font-weight="bold" textLength="16.0" lengthAdjust="spacingAndGlyphs" font-family="'Liberation Serif', serif" fill="#111">(e)</text>
</g>
<g id="panel-f">
<line x1="473.7" y1="251.4" x2="657.1" y2="141.3" stroke="#111" stroke-width="1.2" stroke-linecap="round" stroke-dasharray="0.01 2.25"/>
<circle cx="657.1" cy="148" r="2.38" fill="#111"/>
<circle cx="625.8" cy="152.6" r="2.38" fill="#111"/>
<circle cx="603.3" cy="173.5" r="2.38" fill="#111"/>
<circle cx="599.7" cy="182" r="2.38" fill="#111"/>
<circle cx="588.2" cy="180" r="2.38" fill="#111"/>
<circle cx="585.2" cy="181.8" r="2.38" fill="#111"/>
<circle cx="590.7" cy="186.3" r="2.38" fill="#111"/>
<circle cx="574.2" cy="190" r="2.38" fill="#111"/>
<circle cx="574.2" cy="192.2" r="2.38" fill="#111"/>
<circle cx="560.9" cy="196.4" r="2.38" fill="#111"/>
<circle cx="559.4" cy="197.9" r="2.38" fill="#111"/>
<circle cx="552.7" cy="204.4" r="2.38" fill="#111"/>
<circle cx="549.2" cy="205" r="2.38" fill="#111"/>
<circle cx="473.7" cy="251.4" r="2.38" fill="#111"/>
<circle cx="476.8" cy="249.5" r="2.38" fill="#111"/>
<circle cx="485.9" cy="244" r="2.38" fill="#111"/>
<rect x="571.95" y="167.85" width="4.5" height="4.5" fill="none" stroke="#a0a0a0" stroke-width="0.75"/>
<rect x="558.65" y="181.75" width="4.5" height="4.5" fill="none" stroke="#a0a0a0" stroke-width="0.75"/>
<rect x="588.35" y="193.95" width="4.5" height="4.5" fill="none" stroke="#a0a0a0" stroke-width="0.75"/>
<rect x="654.85" y="191.85" width="4.5" height="4.5" fill="none" stroke="#a0a0a0" stroke-width="0.75"/>
<rect x="586.05" y="198.95" width="4.5" height="4.5" fill="none" stroke="#a0a0a0" stroke-width="0.75"/>
<rect x="583.05" y="200.65" width="4.5" height="4.5" fill="none" stroke="#a0a0a0" stroke-width="0.75"/>
<rect x="597.55" y="198.75" width="4.5" height="4.5" fill="none" stroke="#a0a0a0" stroke-width="0.75"/>
<rect x="623.55" y="199.35" width="4.5" height="4.5" fill="none" stroke="#a0a0a0" stroke-width="0.75"/>
<rect x="557.25" y="199.75" width="4.5" height="4.5" fill="none" stroke="#a0a0a0" stroke-width="0.75"/>
<rect x="550.55" y="201.55" width="4.5" height="4.5" fill="none" stroke="#a0a0a0" stroke-width="0.75"/>
<rect x="546.95" y="207.65" width="4.5" height="4.5" fill="none" stroke="#a0a0a0" stroke-width="0.75"/>
<rect x="572.05" y="210.85" width="4.5" height="4.5" fill="none" stroke="#a0a0a0" stroke-width="0.75"/>
<rect x="588.55" y="208.45" width="4.5" height="4.5" fill="none" stroke="#a0a0a0" stroke-width="0.75"/>
<rect x="601.05" y="171.25" width="4.5" height="4.5" fill="none" stroke="#a0a0a0" stroke-width="0.75"/>
<rect x="483.15" y="210.35" width="4.5" height="4.5" fill="none" stroke="#a0a0a0" stroke-width="0.75"/>
<rect x="484.15" y="211.55" width="4.5" height="4.5" fill="none" stroke="#a0a0a0" stroke-width="0.75"/>
<rect x="472.35" y="185.85" width="4.5" height="4.5" fill="none" stroke="#a0a0a0" stroke-width="0.75"/>
<rect x="475.05" y="184.85" width="4.5" height="4.5" fill="none" stroke="#a0a0a0" stroke-width="0.75"/>
<rect x="464.6" y="136.8" width="201.69999999999993" height="120.34999999999997" fill="none" stroke="#7a7a7a" stroke-width="0.85"/>
<line x1="473.40" y1="257.15" x2="473.40" y2="259.25" stroke="#3a3a3a" stroke-width="0.8"/>
<text x="473.40" y="268.2" text-anchor="middle" font-size="10" textLength="5.25" lengthAdjust="spacingAndGlyphs" font-family="'Liberation Serif', serif" fill="#111">0</text>
<line x1="505.64" y1="257.15" x2="505.64" y2="259.25" stroke="#3a3a3a" stroke-width="0.8"/>
<text x="505.64" y="268.2" text-anchor="middle" font-size="10" textLength="5.25" lengthAdjust="spacingAndGlyphs" font-family="'Liberation Serif', serif" fill="#111">2</text>
<line x1="537.88" y1="257.15" x2="537.88" y2="259.25" stroke="#3a3a3a" stroke-width="0.8"/>
<text x="537.88" y="268.2" text-anchor="middle" font-size="10" textLength="5.25" lengthAdjust="spacingAndGlyphs" font-family="'Liberation Serif', serif" fill="#111">4</text>
<line x1="570.12" y1="257.15" x2="570.12" y2="259.25" stroke="#3a3a3a" stroke-width="0.8"/>
<text x="570.12" y="268.2" text-anchor="middle" font-size="10" textLength="5.25" lengthAdjust="spacingAndGlyphs" font-family="'Liberation Serif', serif" fill="#111">6</text>
<line x1="602.36" y1="257.15" x2="602.36" y2="259.25" stroke="#3a3a3a" stroke-width="0.8"/>
<text x="602.36" y="268.2" text-anchor="middle" font-size="10" textLength="5.25" lengthAdjust="spacingAndGlyphs" font-family="'Liberation Serif', serif" fill="#111">8</text>
<line x1="634.60" y1="257.15" x2="634.60" y2="259.25" stroke="#3a3a3a" stroke-width="0.8"/>
<text x="634.60" y="268.2" text-anchor="middle" font-size="10" textLength="10.50" lengthAdjust="spacingAndGlyphs" font-family="'Liberation Serif', serif" fill="#111">10</text>
<line x1="462.5" y1="251.50" x2="464.6" y2="251.50" stroke="#3a3a3a" stroke-width="0.8"/>
<text x="460.80" y="254.80" text-anchor="end" font-size="10" textLength="5.25" lengthAdjust="spacingAndGlyphs" font-family="'Liberation Serif', serif" fill="#111">0</text>
<line x1="462.5" y1="232.26" x2="464.6" y2="232.26" stroke="#3a3a3a" stroke-width="0.8"/>
<text x="460.80" y="235.56" text-anchor="end" font-size="10" textLength="5.25" lengthAdjust="spacingAndGlyphs" font-family="'Liberation Serif', serif" fill="#111">2</text>
<line x1="462.5" y1="213.02" x2="464.6" y2="213.02" stroke="#3a3a3a" stroke-width="0.8"/>
<text x="460.80" y="216.32" text-anchor="end" font-size="10" textLength="5.25" lengthAdjust="spacingAndGlyphs" font-family="'Liberation Serif', serif" fill="#111">4</text>
<line x1="462.5" y1="193.78" x2="464.6" y2="193.78" stroke="#3a3a3a" stroke-width="0.8"/>
<text x="460.80" y="197.08" text-anchor="end" font-size="10" textLength="5.25" lengthAdjust="spacingAndGlyphs" font-family="'Liberation Serif', serif" fill="#111">6</text>
<line x1="462.5" y1="174.54" x2="464.6" y2="174.54" stroke="#3a3a3a" stroke-width="0.8"/>
<text x="460.80" y="177.84" text-anchor="end" font-size="10" textLength="5.25" lengthAdjust="spacingAndGlyphs" font-family="'Liberation Serif', serif" fill="#111">8</text>
<line x1="462.5" y1="155.30" x2="464.6" y2="155.30" stroke="#3a3a3a" stroke-width="0.8"/>
<text x="460.80" y="158.60" text-anchor="end" font-size="10" textLength="10.50" lengthAdjust="spacingAndGlyphs" font-family="'Liberation Serif', serif" fill="#111">10</text>
<rect x="468.4" y="140.4" width="56.2" height="26.4" rx="1.6" fill="#fff" fill-opacity="0.8" stroke="#dcdcdc" stroke-width="0.7"/>
<circle cx="479.7" cy="147.20000000000002" r="2.38" fill="#111"/>
<rect x="477.45" y="156.75" width="4.5" height="4.5" fill="none" stroke="#a0a0a0" stroke-width="0.75"/>
<text x="493.7" y="149.4" font-size="8.5" textLength="14.1" lengthAdjust="spacingAndGlyphs" font-family="'Liberation Serif', serif" fill="#111">MPI</text>
<text x="508.0" y="150.8" font-size="6.9" textLength="8.0" lengthAdjust="spacingAndGlyphs" font-style="italic" font-family="'Liberation Serif', serif" fill="#111">CT</text>
<text x="493.7" y="160.9" font-size="8.4" textLength="26.7" lengthAdjust="spacingAndGlyphs" font-family="'Liberation Serif', serif" fill="#111">Murray</text>
<text x="648" y="248" text-anchor="middle" font-size="13.5" font-weight="bold" textLength="14.6" lengthAdjust="spacingAndGlyphs" font-family="'Liberation Serif', serif" fill="#111">(f)</text>
</g>
<g transform="translate(79.8,281.0)">
<text x="0" y="0" font-size="11" textLength="14.6" lengthAdjust="spacingAndGlyphs" font-family="'Liberation Serif', serif" fill="#111">CT</text>
<text x="16.8" y="0" font-size="11" textLength="19.3" lengthAdjust="spacingAndGlyphs" font-family="'Liberation Serif', serif" fill="#111">flow</text>
<text x="39.6" y="0" font-size="11" textLength="33.2" lengthAdjust="spacingAndGlyphs" font-family="'Liberation Serif', serif" fill="#111">fraction</text>
<text x="76.0" y="-0.3" font-size="10.6" font-family="'Liberation Serif', serif" fill="#111">[</text>
<text x="79.6" y="0" font-size="10.4" textLength="10.1" lengthAdjust="spacingAndGlyphs" font-family="'Liberation Serif', serif" fill="#111">10</text>
<text x="89.9" y="-3.4" font-size="7.6" textLength="9.5" lengthAdjust="spacingAndGlyphs" font-family="'Liberation Serif', serif" fill="#111">−2</text>
<text x="100.0" y="-0.3" font-size="10.6" font-family="'Liberation Serif', serif" fill="#111">]</text>
</g>
<g transform="translate(296.9,281.0)">
<text x="0" y="0" font-size="11" textLength="14.6" lengthAdjust="spacingAndGlyphs" font-family="'Liberation Serif', serif" fill="#111">CT</text>
<text x="16.8" y="0" font-size="11" textLength="19.3" lengthAdjust="spacingAndGlyphs" font-family="'Liberation Serif', serif" fill="#111">flow</text>
<text x="39.6" y="0" font-size="11" textLength="33.2" lengthAdjust="spacingAndGlyphs" font-family="'Liberation Serif', serif" fill="#111">fraction</text>
<text x="76.0" y="-0.3" font-size="10.6" font-family="'Liberation Serif', serif" fill="#111">[</text>
<text x="79.6" y="0" font-size="10.4" textLength="10.1" lengthAdjust="spacingAndGlyphs" font-family="'Liberation Serif', serif" fill="#111">10</text>
<text x="89.9" y="-3.4" font-size="7.6" textLength="9.5" lengthAdjust="spacingAndGlyphs" font-family="'Liberation Serif', serif" fill="#111">−2</text>
<text x="100.0" y="-0.3" font-size="10.6" font-family="'Liberation Serif', serif" fill="#111">]</text>
</g>
<g transform="translate(514.0,281.0)">
<text x="0" y="0" font-size="11" textLength="14.6" lengthAdjust="spacingAndGlyphs" font-family="'Liberation Serif', serif" fill="#111">CT</text>
<text x="16.8" y="0" font-size="11" textLength="19.3" lengthAdjust="spacingAndGlyphs" font-family="'Liberation Serif', serif" fill="#111">flow</text>
<text x="39.6" y="0" font-size="11" textLength="33.2" lengthAdjust="spacingAndGlyphs" font-family="'Liberation Serif', serif" fill="#111">fraction</text>
<text x="76.0" y="-0.3" font-size="10.6" font-family="'Liberation Serif', serif" fill="#111">[</text>
<text x="79.6" y="0" font-size="10.4" textLength="10.1" lengthAdjust="spacingAndGlyphs" font-family="'Liberation Serif', serif" fill="#111">10</text>
<text x="89.9" y="-3.4" font-size="7.6" textLength="9.5" lengthAdjust="spacingAndGlyphs" font-family="'Liberation Serif', serif" fill="#111">−2</text>
<text x="100.0" y="-0.3" font-size="10.6" font-family="'Liberation Serif', serif" fill="#111">]</text>
</g>
<g transform="translate(9.3,116.4) rotate(-90)">
<text x="0" y="0" font-size="11" textLength="19.0" lengthAdjust="spacingAndGlyphs" font-family="'Liberation Serif', serif" fill="#111">Sim.</text>
<text x="23.8" y="0" font-size="11" textLength="19.8" lengthAdjust="spacingAndGlyphs" font-family="'Liberation Serif', serif" fill="#111">flow</text>
<text x="47.2" y="0" font-size="11" textLength="32.6" lengthAdjust="spacingAndGlyphs" font-family="'Liberation Serif', serif" fill="#111">fraction</text>
<text x="83.6" y="-0.3" font-size="10.6" font-family="'Liberation Serif', serif" fill="#111">[</text>
<text x="87.2" y="0" font-size="10.4" textLength="10.1" lengthAdjust="spacingAndGlyphs" font-family="'Liberation Serif', serif" fill="#111">10</text>
<text x="97.5" y="-3.4" font-size="7.6" textLength="9.5" lengthAdjust="spacingAndGlyphs" font-family="'Liberation Serif', serif" fill="#111">−2</text>
<text x="107.6" y="-0.3" font-size="10.6" font-family="'Liberation Serif', serif" fill="#111">]</text>
</g>
<g transform="translate(11.2,252.8) rotate(-90)">
<text x="0" y="0" font-size="11" textLength="19.0" lengthAdjust="spacingAndGlyphs" font-family="'Liberation Serif', serif" fill="#111">Sim.</text>
<text x="23.8" y="0" font-size="11" textLength="19.8" lengthAdjust="spacingAndGlyphs" font-family="'Liberation Serif', serif" fill="#111">flow</text>
<text x="47.2" y="0" font-size="11" textLength="32.6" lengthAdjust="spacingAndGlyphs" font-family="'Liberation Serif', serif" fill="#111">fraction</text>
<text x="83.6" y="-0.3" font-size="10.6" font-family="'Liberation Serif', serif" fill="#111">[</text>
<text x="87.2" y="0" font-size="10.4" textLength="10.1" lengthAdjust="spacingAndGlyphs" font-family="'Liberation Serif', serif" fill="#111">10</text>
<text x="97.5" y="-3.4" font-size="7.6" textLength="9.5" lengthAdjust="spacingAndGlyphs" font-family="'Liberation Serif', serif" fill="#111">−2</text>
<text x="107.6" y="-0.3" font-size="10.6" font-family="'Liberation Serif', serif" fill="#111">]</text>
</g>
</svg>
</body></html>
